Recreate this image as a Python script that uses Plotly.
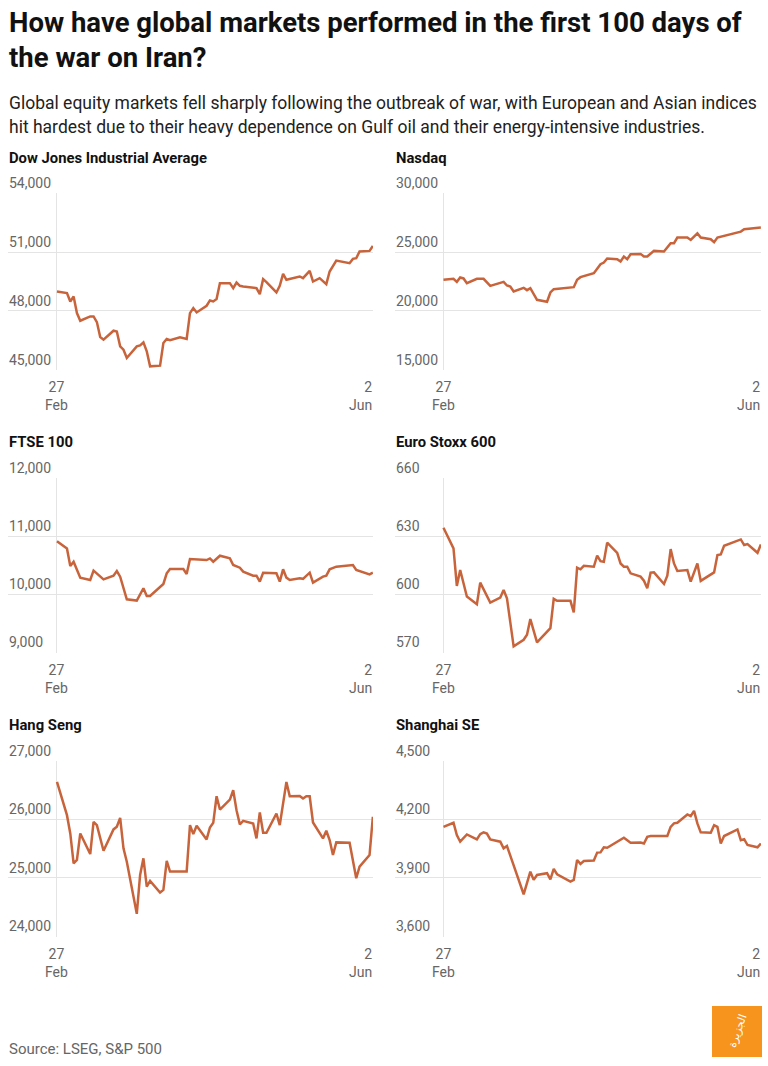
import plotly.graph_objects as go
import pandas as pd

# ---------------- data ----------------
START = "2026-02-27"
X_TICK_LABELS = ["27<br>Feb", "2<br>Jun"]
LAST_DAY = 95  # 2 Jun

dow_days = [0, 3, 4, 5, 6, 7, 10, 11, 12, 13, 14, 17, 18, 19, 20, 21, 24, 25, 26, 27, 28, 31, 32, 33, 34, 37, 39,
            40, 41, 42, 45, 46, 47, 48, 49, 52, 53, 54, 55, 56, 60, 61, 62, 63, 66, 67, 68, 69, 73, 74, 76, 77, 79,
            81, 82, 84, 88, 89, 90, 91, 94, 95]
dow_vals = [48990, 48906, 48481, 48736, 47887, 47497, 47717, 47717, 47428, 46664, 46528, 46987, 46950, 46189, 46020,
            45595, 46189, 46240, 46393, 45935, 45170, 45204, 46359, 46562, 46500, 46647, 46570,
            47887, 48142, 47921, 48261, 48532, 48480, 48600, 49415, 49415, 49160, 49449, 49279, 49245, 49160, 48855,
            49619, 49470, 48940, 49279, 49890, 49585, 49755, 49670, 50044, 49500, 49670,
            49364, 50010, 50570, 50434, 50655, 50690, 51029, 51063, 51318]

nasdaq_days = [0, 3, 4, 5, 6, 7, 10, 12, 14, 18, 19, 20, 21, 24, 25, 26, 28, 31, 32, 33, 39, 40, 41, 45, 47, 48, 49,
               52, 53, 54, 55, 56, 59, 60, 61, 63, 66, 67, 68, 69, 70, 73, 74, 76, 77, 80, 81, 82, 84, 89, 90, 95]
nasdaq_vals = [22642, 22727, 22472, 22840, 22760, 22358, 22727, 22727, 22132, 22472, 22160, 22075, 21651, 21962,
               21764, 21934, 20943, 20774, 21566, 21849, 22019, 22642, 22868, 23208, 23972, 24113, 24453,
               24397, 24198, 24623, 24397, 24821, 24849, 24623, 24623, 25104, 25048, 25387, 25755, 25755, 26236,
               26236, 26038, 26604, 26236, 26094, 25840, 26236, 26377, 26745, 26943, 27085]

ftse_days = [0, 3, 4, 5, 7, 10, 11, 14, 17, 18, 19, 21, 24, 26, 27, 28, 32, 33, 34, 38, 39, 40, 45, 46, 47, 49, 52,
             53, 55, 56, 59, 60, 61, 62, 66, 67, 68, 69, 70, 73, 74, 76, 77, 80, 81, 82, 84, 89, 90, 94, 95]
ftse_vals = [10914, 10789, 10486, 10560, 10286, 10246, 10406, 10257, 10320, 10400, 10303, 9914, 9891, 10103, 9971,
             9971, 10177, 10360, 10434, 10434, 10349, 10606, 10589, 10617, 10560, 10663, 10617,
             10503, 10457, 10389, 10320, 10320, 10217, 10371, 10360, 10217, 10429, 10286, 10246, 10274, 10265,
             10371, 10200, 10303, 10320, 10429, 10474, 10503, 10417, 10343, 10371]

stoxx_days = [0, 3, 4, 5, 7, 10, 11, 14, 17, 18, 19, 21, 24, 25, 26, 28, 32, 33, 34, 38, 39, 40, 41, 42, 45, 46, 47,
              48, 49, 52, 53, 54, 55, 56, 59, 60, 61, 62, 63, 66, 67, 68, 69, 70, 73, 74, 76, 77, 81, 82, 83, 84,
              89, 90, 91, 94, 95]
stoxx_vals = [634.3, 623.7, 604.3, 612.5, 598.8, 594.9, 606.0, 595.7, 598.3, 602.2, 597.9, 573.1, 576.5, 579.1,
              587.2, 575.2, 582.5, 597.6, 596.6, 596.6, 590.6, 613.7, 612.9, 614.7, 614.2, 619.9, 617.1,
              616.8, 626.6, 621.4, 615.9, 614.2, 614.2, 610.8, 609.1, 607.0, 603.1, 611.1, 611.3, 605.3, 609.6,
              623.3, 615.9, 612.0, 612.5, 606.5, 615.9, 606.9, 611.3, 620.2, 620.6, 625.0,
              628.3, 625.4, 625.9, 621.4, 625.7]

hangseng_days = [0, 3, 4, 5, 6, 7, 10, 11, 12, 14, 17, 18, 19, 20, 21, 24, 25, 26, 27, 28, 31, 32, 33, 34, 39, 40,
                 41, 42, 45, 46, 47, 48, 49, 52, 53, 54, 55, 56, 59, 60, 61, 62, 63, 66, 67, 69, 70, 73, 74, 75,
                 76, 77, 80, 81, 82, 83, 84, 88, 90, 91, 94, 95]
hangseng_vals = [26642, 26074, 25761, 25250, 25307, 25761, 25409, 25960, 25903, 25466, 25830, 25875, 26028, 25506,
                 25278, 24386, 25051, 25335, 24852, 24949, 24750, 24795, 25290, 25108, 25108, 25903,
                 25750, 25892, 25659, 25864, 25943, 26398, 26170, 26341, 26500, 26159, 25915, 25977, 25932, 25676,
                 26119, 25773, 25773, 26102, 25903, 26642, 26398, 26403, 26358, 26398,
                 26398, 25949, 25676, 25807, 25648, 25392, 25608, 25602, 24994, 25193, 25392, 26045]

shanghai_days = [0, 3, 4, 5, 7, 10, 11, 12, 13, 14, 17, 18, 19, 24, 26, 27, 28, 31, 32, 33, 34, 38, 39, 40, 41, 42,
                 45, 46, 47, 48, 49, 52, 54, 56, 59, 60, 61, 62, 67, 68, 69, 70, 73, 74, 75, 76, 77, 80, 81, 82,
                 83, 84, 88, 89, 90, 91, 94, 95]
shanghai_vals = [4162, 4183, 4120, 4086, 4123, 4098, 4125, 4134, 4128, 4098, 4086, 4052, 4064, 3816, 3932, 3890,
                 3915, 3924, 3893, 3946, 3919, 3881, 3890, 3992, 3972, 3987,
                 3989, 4030, 4031, 4057, 4055, 4086, 4106, 4081, 4082, 4077, 4111, 4115, 4115, 4162, 4180, 4183,
                 4226, 4217, 4244, 4180, 4134, 4132, 4171, 4162,
                 4077, 4115, 4149, 4094, 4099, 4069, 4057, 4077]

panel_titles = ["Dow Jones Industrial Average", "Nasdaq", "FTSE 100", "Euro Stoxx 600", "Hang Seng", "Shanghai SE"]
panel_days = [dow_days, nasdaq_days, ftse_days, stoxx_days, hangseng_days, shanghai_days]
panel_vals = [dow_vals, nasdaq_vals, ftse_vals, stoxx_vals, hangseng_vals, shanghai_vals]
panel_yticks = [
    [45000, 48000, 51000, 54000],
    [15000, 20000, 25000, 30000],
    [9000, 10000, 11000, 12000],
    [570, 600, 630, 660],
    [24000, 25000, 26000, 27000],
    [3600, 3900, 4200, 4500],
]

TITLE_LINES = ["How have global markets performed in the first 100 days of", "the war on Iran?"]
SUBTITLE_LINES = [
    "Global equity markets fell sharply following the outbreak of war, with European and Asian indices",
    "hit hardest due to their heavy dependence on Gulf oil and their energy-intensive industries.",
]
SOURCE = "Source: LSEG, S&P 500"

# ---------------- layout geometry (pixels) ----------------
W, H = 768, 1066
FONT = "Roboto, Arial, sans-serif"
LINE_COLOR = "#c8643c"
GRID = "#e4e4e4"
TICK_COLOR = "#666666"

col_px = [(8, 373, 57), (395, 761, 443.5)]          # domain left, right, 27-Feb position
row_px = [(193, 370), (477.7, 652.7), (760.7, 936.7)]  # top, bottom gridline
title_y_px = [158, 441.5, 725]


def px_x(v):
    return v / W


def px_y(v):
    return 1 - v / H


base = pd.Timestamp(START)
fig = go.Figure()
annotations = []

for i in range(6):
    r, c = divmod(i, 2)
    n = i + 1
    xa = "x" if n == 1 else f"x{n}"
    ya = "y" if n == 1 else f"y{n}"
    xkey = "xaxis" if n == 1 else f"xaxis{n}"
    ykey = "yaxis" if n == 1 else f"yaxis{n}"
    left, right, start_px = col_px[c]
    top, bottom = row_px[r]
    dates = [base + pd.Timedelta(days=d) for d in panel_days[i]]
    fig.add_trace(go.Scatter(x=dates, y=panel_vals[i], mode="lines", xaxis=xa, yaxis=ya,
                             line=dict(color=LINE_COLOR, width=2.5), hoverinfo="skip"))
    ext_days = (start_px - left) / (right - start_px) * LAST_DAY
    end = base + pd.Timedelta(days=LAST_DAY)
    xr = [base - pd.Timedelta(days=ext_days), end + pd.Timedelta(hours=1)]
    yt = panel_yticks[i]
    span = yt[-1] - yt[0]
    fig.update_layout({
        xkey: dict(domain=[px_x(left), px_x(right)], anchor=ya, type="date", range=xr,
                   tickmode="array", tickvals=[base, end], showticklabels=False,
                   showgrid=True, gridcolor=GRID, gridwidth=1, zeroline=False, showline=False,
                   ticks="", fixedrange=True),
        ykey: dict(domain=[px_y(bottom), px_y(top)], anchor=xa,
                   range=[yt[0] - span * 0.002, yt[-1] + span * 0.002],
                   tickmode="array", tickvals=yt, showticklabels=False,
                   showgrid=True, gridcolor=GRID, gridwidth=1, zeroline=False, showline=False,
                   ticks="", fixedrange=True),
    })
    xdom = f"{xa} domain"
    for v in yt:
        annotations.append(dict(xref=xdom, yref=ya, x=0, y=v, xanchor="left", yanchor="bottom",
                                text=f"{v:,}", showarrow=False, xshift=-1, yshift=0,
                                font=dict(family=FONT, size=14, color=TICK_COLOR)))
    ydom = f"{ya} domain"
    annotations.append(dict(xref=xa, yref=ydom, x=base, y=0, xanchor="center", yanchor="top",
                            text=X_TICK_LABELS[0], showarrow=False, yshift=-7, align="center",
                            font=dict(family=FONT, size=14, color=TICK_COLOR)))
    annotations.append(dict(xref=xa, yref=ydom, x=end, y=0, xanchor="right", yanchor="top",
                            text=X_TICK_LABELS[1], showarrow=False, yshift=-7, xshift=1, align="right",
                            font=dict(family=FONT, size=14, color=TICK_COLOR)))
    annotations.append(dict(xref="paper", yref="paper", x=px_x(left), y=px_y(title_y_px[r]),
                            xanchor="left", yanchor="middle", text=panel_titles[i], showarrow=False,
                            xshift=-1, font=dict(family=FONT, size=14.8, color="#111111", weight=700)))

for k, (line, ypx) in enumerate(zip(TITLE_LINES, [22, 58])):
    annotations.append(dict(xref="paper", yref="paper", x=px_x(8), y=px_y(ypx), xanchor="left",
                            yanchor="middle", text=line, showarrow=False, xshift=-1,
                            font=dict(family=FONT, size=27.5, color="#111111", weight=700)))
for line, ypx in zip(SUBTITLE_LINES, [103, 127]):
    annotations.append(dict(xref="paper", yref="paper", x=px_x(8), y=px_y(ypx), xanchor="left",
                            yanchor="middle", text=line, showarrow=False, xshift=-1,
                            font=dict(family=FONT, size=17.5, color="#222222")))
annotations.append(dict(xref="paper", yref="paper", x=px_x(8), y=px_y(1049), xanchor="left",
                        yanchor="middle", text=SOURCE, showarrow=False, xshift=-1,
                        font=dict(family=FONT, size=15, color=TICK_COLOR)))

# logo
shapes = [dict(type="rect", xref="paper", yref="paper", x0=px_x(712), x1=px_x(762),
               y0=px_y(1057), y1=px_y(1006), fillcolor="#f7941d", line=dict(width=0), layer="above")]
annotations.append(dict(xref="paper", yref="paper", x=px_x(737), y=px_y(1031), xanchor="center",
                        yanchor="middle", text="الجزيرة", showarrow=False, textangle=-70,
                        font=dict(family="DejaVu Sans", size=11, color="white")))

fig.update_layout(width=W, height=H, margin=dict(l=0, r=0, t=0, b=0), showlegend=False,
                  paper_bgcolor="white", plot_bgcolor="white", annotations=annotations, shapes=shapes,
                  font=dict(family=FONT), hovermode=False)

fig.write_html("out.html")
